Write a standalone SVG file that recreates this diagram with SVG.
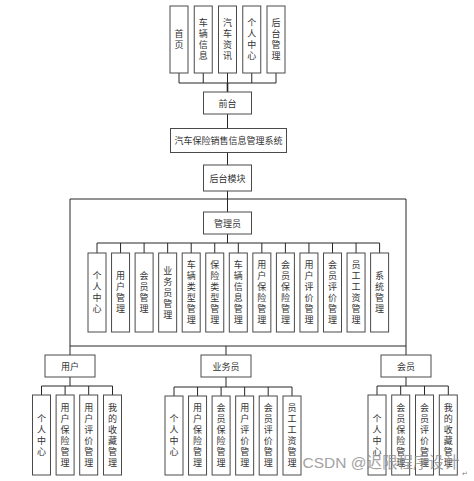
<svg xmlns="http://www.w3.org/2000/svg" width="474" height="481" viewBox="0 0 474 481">
<style>
.b{fill:#fff;stroke:#4a4a4a;stroke-width:1}
.t{font-family:"Noto Sans CJK SC","Noto Sans",sans-serif;font-size:9px;fill:#333;text-anchor:middle;dominant-baseline:central}
.v{font-family:"Noto Sans CJK SC","Noto Sans",sans-serif;font-size:9px;fill:#333;text-anchor:middle;writing-mode:vertical-rl;letter-spacing:2px}
.c{fill:none;stroke:#262626;stroke-width:1}
.wm{font-family:"Liberation Sans","Noto Sans CJK SC",sans-serif;font-size:15.5px;fill:#8c8c8c;opacity:0.8}
</style>
<rect width="474" height="481" fill="#fff"/>
<g id="connectors" class="c">
<path d="M179 73V83M203.25 73V83M227.5 73V83M251.75 73V83M276 73V83M179 83H276"/>
<path d="M227.5 83V92" stroke-width="1.6"/>
<path d="M227.5 114V128.5M227.5 152.5V165M227.5 191V212M227.5 234V243"/>
<path d="M70 199H406V346H70Z"/>
<path d="M97 243H379.6M97 243V253M120.55 243V253M144.1 243V253M167.65 243V253M191.2 243V253M214.75 243V253M238.3 243V253M261.85 243V253M285.4 243V253M308.95 243V253M332.5 243V253M356.05 243V253M379.6 243V253"/>
<path d="M70 346V355M70 377V386M41.5 386H112.5M41.5 386V395M65.1 386V395M88.7 386V395M112.5 386V395"/>
<path d="M226 346V355M226 377V387M174 387H292M174 387V396M197.55 387V396M221.1 387V396M244.65 387V396M268.2 387V396M292 387V396"/>
<path d="M406 346V355M406 377V386M377 386H448.3M377 386V395M400.7 386V395M424.5 386V395M448.3 386V395"/>
</g>
<g id="n-shouye"><rect class="b" x="170" y="6" width="18" height="67"/><text class="v" x="179" y="40.5">首页</text></g>
<g id="n-cheliangxinxi"><rect class="b" x="194.25" y="6" width="18" height="67"/><text class="v" x="203.25" y="40.5">车辆信息</text></g>
<g id="n-qichezixun"><rect class="b" x="218.5" y="6" width="18" height="67"/><text class="v" x="227.5" y="40.5">汽车资讯</text></g>
<g id="n-gerenzhongxin-top"><rect class="b" x="242.75" y="6" width="18" height="67"/><text class="v" x="251.75" y="40.5">个人中心</text></g>
<g id="n-houtaiguanli"><rect class="b" x="267" y="6" width="18" height="67"/><text class="v" x="276" y="40.5">后台管理</text></g>
<g id="n-qiantai"><rect class="b" x="203.5" y="92" width="48" height="22"/><text class="t" x="227.5" y="103">前台</text></g>
<g id="n-system"><rect class="b" x="170.5" y="128.5" width="116" height="24"/><text class="t" x="228.5" y="140.5">汽车保险销售信息管理系统</text></g>
<g id="n-houtaimokuai"><rect class="b" x="203.5" y="165" width="48" height="26"/><text class="t" x="227.5" y="178">后台模块</text></g>
<g id="n-guanliyuan"><rect class="b" x="203.5" y="212" width="48" height="22"/><text class="t" x="227.5" y="223">管理员</text></g>
<g id="a1"><rect class="b" x="88" y="253" width="18" height="79"/><text class="v" x="97" y="293.5">个人中心</text></g>
<g id="a2"><rect class="b" x="111.55" y="253" width="18" height="79"/><text class="v" x="120.55" y="293.5">用户管理</text></g>
<g id="a3"><rect class="b" x="135.1" y="253" width="18" height="79"/><text class="v" x="144.1" y="293.5">会员管理</text></g>
<g id="a4"><rect class="b" x="158.65" y="253" width="18" height="79"/><text class="v" x="167.65" y="293.5">业务员管理</text></g>
<g id="a5"><rect class="b" x="182.2" y="253" width="18" height="79"/><text class="v" x="191.2" y="293.5">车辆类型管理</text></g>
<g id="a6"><rect class="b" x="205.75" y="253" width="18" height="79"/><text class="v" x="214.75" y="293.5">保险类型管理</text></g>
<g id="a7"><rect class="b" x="229.3" y="253" width="18" height="79"/><text class="v" x="238.3" y="293.5">车辆信息管理</text></g>
<g id="a8"><rect class="b" x="252.85" y="253" width="18" height="79"/><text class="v" x="261.85" y="293.5">用户保险管理</text></g>
<g id="a9"><rect class="b" x="276.4" y="253" width="18" height="79"/><text class="v" x="285.4" y="293.5">会员保险管理</text></g>
<g id="a10"><rect class="b" x="299.95" y="253" width="18" height="79"/><text class="v" x="308.95" y="293.5">用户评价管理</text></g>
<g id="a11"><rect class="b" x="323.5" y="253" width="18" height="79"/><text class="v" x="332.5" y="293.5">会员评价管理</text></g>
<g id="a12"><rect class="b" x="347.05" y="253" width="18" height="79"/><text class="v" x="356.05" y="293.5">员工工资管理</text></g>
<g id="a13"><rect class="b" x="370.6" y="253" width="18" height="79"/><text class="v" x="379.6" y="293.5">系统管理</text></g>
<g id="n-yonghu"><rect class="b" x="45" y="355" width="50" height="22"/><text class="t" x="70" y="366">用户</text></g>
<g id="u1"><rect class="b" x="32.5" y="395" width="18" height="80"/><text class="v" x="41.5" y="436">个人中心</text></g>
<g id="u2"><rect class="b" x="56.1" y="395" width="18" height="80"/><text class="v" x="65.1" y="436">用户保险管理</text></g>
<g id="u3"><rect class="b" x="79.7" y="395" width="18" height="80"/><text class="v" x="88.7" y="436">用户评价管理</text></g>
<g id="u4"><rect class="b" x="103.5" y="395" width="18" height="80"/><text class="v" x="112.5" y="436">我的收藏管理</text></g>
<g id="n-yewuyuan"><rect class="b" x="201" y="355" width="50" height="22"/><text class="t" x="226" y="366">业务员</text></g>
<g id="s1"><rect class="b" x="165" y="396" width="18" height="79"/><text class="v" x="174" y="436.5">个人中心</text></g>
<g id="s2"><rect class="b" x="188.55" y="396" width="18" height="79"/><text class="v" x="197.55" y="436.5">用户保险管理</text></g>
<g id="s3"><rect class="b" x="212.1" y="396" width="18" height="79"/><text class="v" x="221.1" y="436.5">会员保险管理</text></g>
<g id="s4"><rect class="b" x="235.65" y="396" width="18" height="79"/><text class="v" x="244.65" y="436.5">用户评价管理</text></g>
<g id="s5"><rect class="b" x="259.2" y="396" width="18" height="79"/><text class="v" x="268.2" y="436.5">会员评价管理</text></g>
<g id="s6"><rect class="b" x="283" y="396" width="18" height="79"/><text class="v" x="292" y="436.5">员工工资管理</text></g>
<g id="n-huiyuan"><rect class="b" x="381" y="355" width="50" height="22"/><text class="t" x="406" y="366">会员</text></g>
<g id="m1"><rect class="b" x="368" y="395" width="18" height="80"/><text class="v" x="377" y="436">个人中心</text></g>
<g id="m2"><rect class="b" x="391.7" y="395" width="18" height="80"/><text class="v" x="400.7" y="436">会员保险管理</text></g>
<g id="m3"><rect class="b" x="415.5" y="395" width="18" height="80"/><text class="v" x="424.5" y="436">会员评价管理</text></g>
<g id="m4"><rect class="b" x="439.3" y="395" width="18" height="80"/><text class="v" x="448.3" y="436">我的收藏管理</text></g>
<text class="wm" x="302.5" y="468">CSDN @迟限程序设计</text>
<text x="462" y="476" font-family="DejaVu Sans,sans-serif" font-size="7" fill="#888">↵</text>
</svg>
